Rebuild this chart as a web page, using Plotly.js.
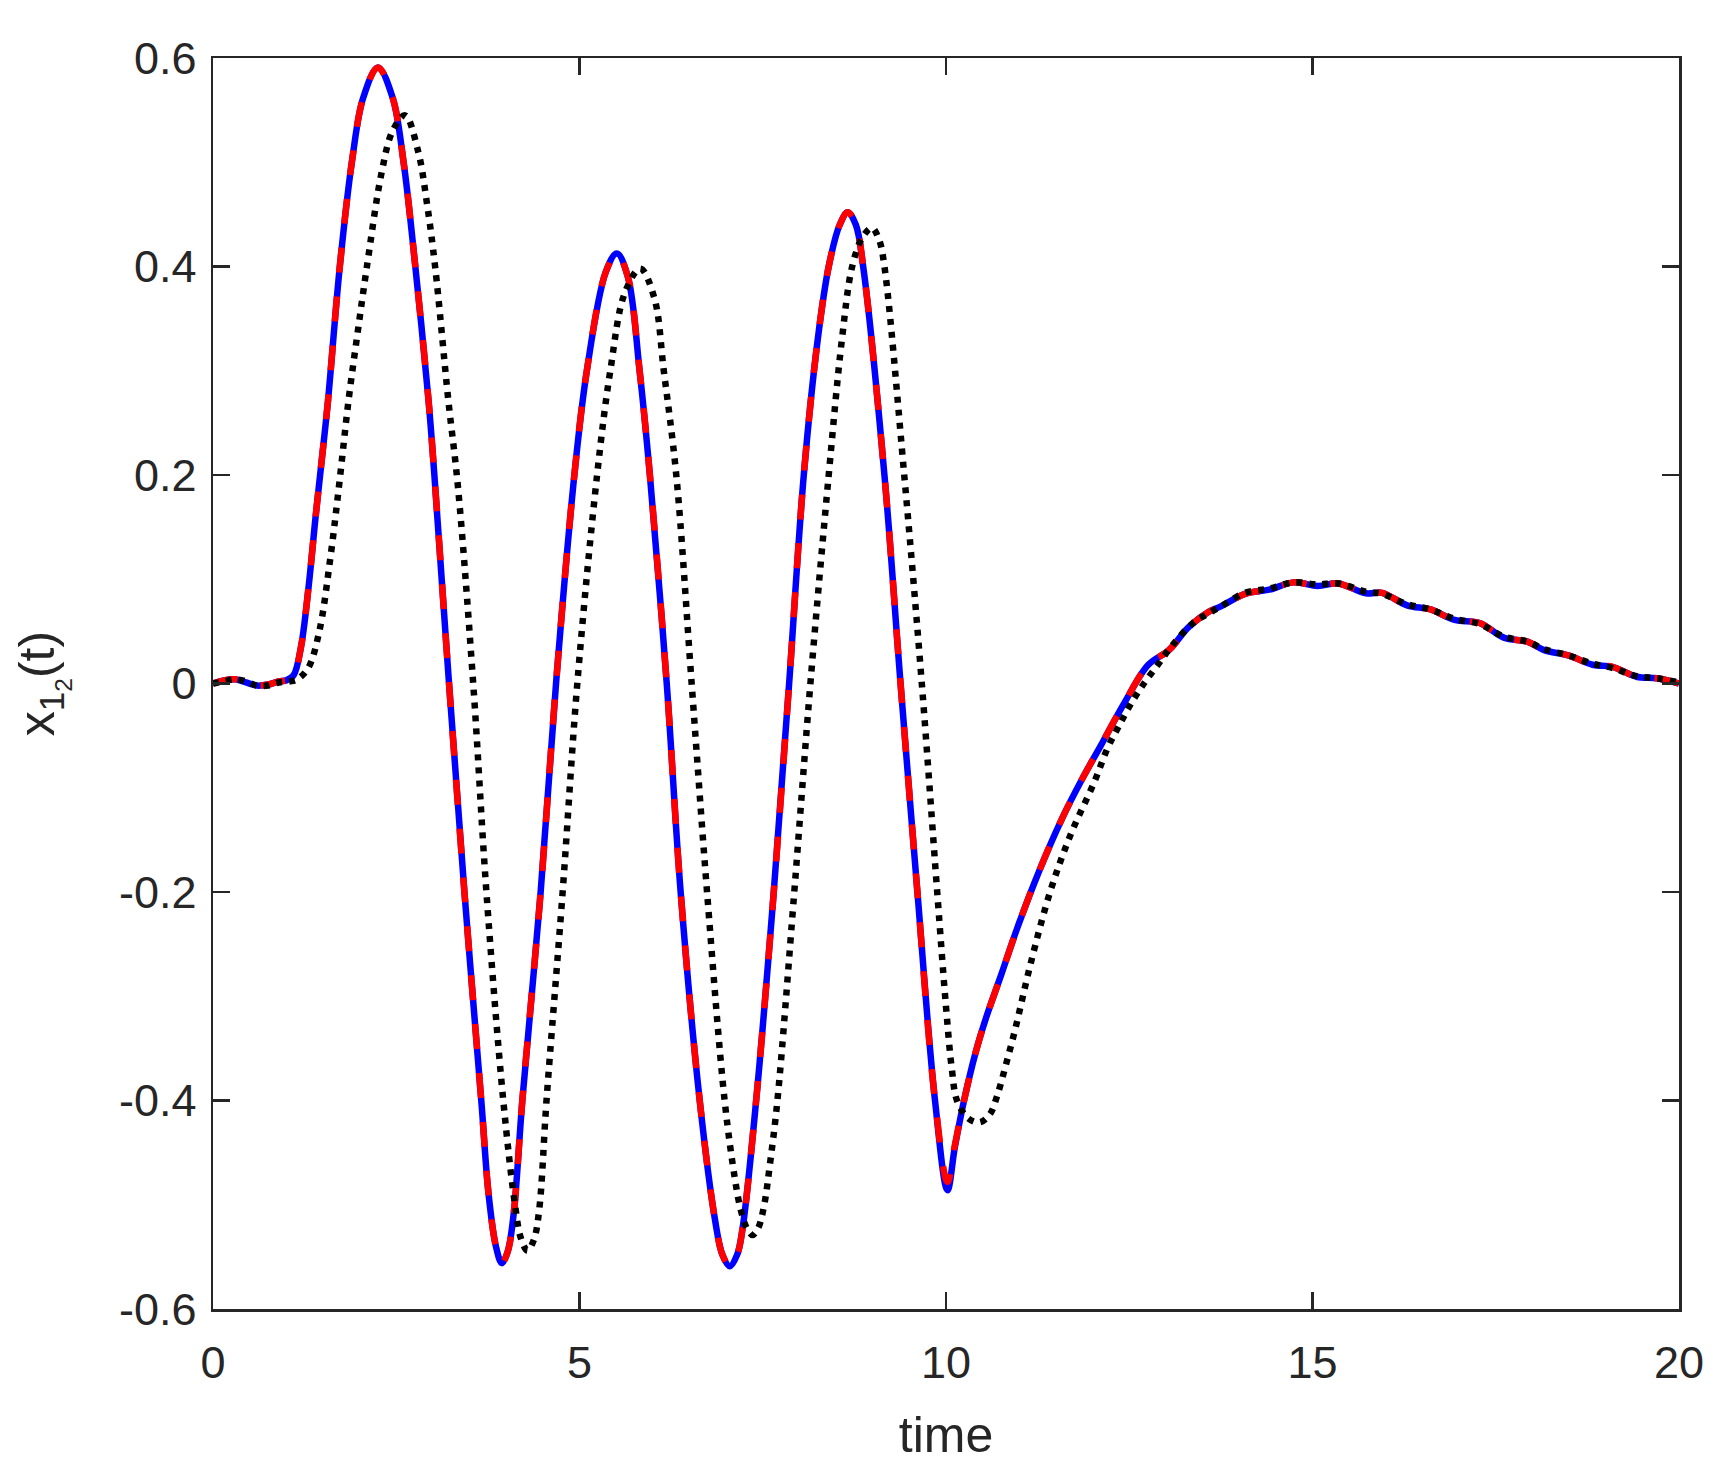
<!DOCTYPE html>
<html>
<head>
<meta charset="utf-8">
<script src="https://cdn.plot.ly/plotly-3.0.1.min.js"></script>
<style>html,body{margin:0;padding:0;background:#fff;}#chart{width:1733px;height:1481px;}</style>
</head>
<body>
<div id="chart"></div>
<script>
// time samples and values
const tBlue = [0, 0.15, 0.3, 0.45, 0.6, 0.75, 0.9, 1.0, 1.1, 1.2, 1.3, 1.4, 1.5, 1.57, 1.73, 1.9, 2.05, 2.25, 2.45, 2.6, 2.76, 2.94, 3.02, 3.22, 3.43, 3.66, 3.76, 3.86, 3.94, 4.02, 4.1, 4.22, 4.47, 4.68, 4.93, 5.1, 5.36, 5.51, 5.66, 5.82, 5.96, 6.19, 6.38, 6.64, 6.85, 6.95, 7.05, 7.15, 7.22, 7.41, 7.65, 7.86, 8.06, 8.25, 8.4, 8.55, 8.66, 8.77, 8.87, 9.16, 9.38, 9.61, 9.85, 10.02, 10.12, 10.24, 10.4, 10.55, 10.75, 10.97, 11.27, 11.58, 11.87, 12.10, 12.43, 12.76, 13.04, 13.31, 13.59, 13.75, 14.08, 14.41, 14.74, 15.07, 15.35, 15.73, 15.95, 16.29, 16.61, 16.94, 17.28, 17.61, 17.94, 18.16, 18.49, 18.82, 19.09, 19.42, 19.70, 20];
const xBlue = [0, 0.003, 0.004, 0.001, -0.002, -0.001, 0.002, 0.003, 0.008, 0.035, 0.09, 0.16, 0.225, 0.272, 0.4, 0.503, 0.562, 0.591, 0.562, 0.5, 0.4, 0.272, 0.2, 0.0, -0.2, -0.4, -0.49, -0.54, -0.556, -0.545, -0.51, -0.4, -0.2, 0.0, 0.2, 0.3, 0.395, 0.4125, 0.39, 0.3, 0.2, 0.0, -0.2, -0.4, -0.515, -0.548, -0.559, -0.548, -0.525, -0.4, -0.2, 0.0, 0.2, 0.33, 0.4, 0.44, 0.452, 0.44, 0.4, 0.2, 0.0, -0.2, -0.4, -0.486, -0.445, -0.402, -0.355, -0.32, -0.28, -0.235, -0.18, -0.13, -0.09, -0.061, -0.019, 0.018, 0.032, 0.054, 0.069, 0.074, 0.086, 0.090, 0.097, 0.0935, 0.096, 0.0865, 0.087, 0.075, 0.071, 0.061, 0.058, 0.044, 0.040, 0.032, 0.027, 0.018, 0.016, 0.0065, 0.005, 0];
const tRed = tBlue;
const xRed = [0, 0.003, 0.004, 0.001, -0.002, -0.001, 0.002, 0.003, 0.008, 0.035, 0.09, 0.16, 0.225, 0.272, 0.4, 0.503, 0.562, 0.591, 0.562, 0.5, 0.4, 0.272, 0.2, 0.0, -0.2, -0.4, -0.49, -0.54, -0.556, -0.545, -0.51, -0.4, -0.2, 0.0, 0.2, 0.3, 0.395, 0.4125, 0.39, 0.3, 0.2, 0.0, -0.2, -0.4, -0.515, -0.548, -0.559, -0.548, -0.525, -0.4, -0.2, 0.0, 0.2, 0.33, 0.4, 0.44, 0.452, 0.44, 0.4, 0.2, 0.0, -0.2, -0.4, -0.478, -0.443, -0.402, -0.355, -0.32, -0.28, -0.235, -0.18, -0.13, -0.09, -0.061, -0.019, 0.018, 0.032, 0.054, 0.069, 0.074, 0.086, 0.090, 0.097, 0.0935, 0.096, 0.0865, 0.087, 0.075, 0.071, 0.061, 0.058, 0.044, 0.040, 0.032, 0.027, 0.018, 0.016, 0.0065, 0.005, 0];
const tBlack = [0, 0.15, 0.3, 0.45, 0.6, 0.75, 0.9, 1.05, 1.15, 1.3, 1.45, 1.6, 1.72, 1.85, 1.97, 2.1, 2.3, 2.45, 2.62, 2.8, 2.92, 3.03, 3.21, 3.34, 3.55, 3.73, 3.96, 4.12, 4.2, 4.29, 4.38, 4.45, 4.55, 4.77, 4.97, 5.24, 5.42, 5.62, 5.83, 6.02, 6.15, 6.32, 6.53, 6.74, 6.98, 7.12, 7.2, 7.28, 7.36, 7.44, 7.52, 7.6, 7.7, 7.93, 8.15, 8.4, 8.58, 8.72, 8.86, 8.99, 9.09, 9.16, 9.43, 9.67, 9.88, 10.0, 10.08, 10.15, 10.3, 10.46, 10.6, 10.7, 10.82, 10.95, 11.15, 11.42, 11.7, 12.02, 12.21, 12.35, 12.51, 12.70, 12.89, 13.08, 13.37, 13.6, 13.8, 14.08, 14.41, 14.74, 15.07, 15.35, 15.73, 15.95, 16.29, 16.61, 16.94, 17.28, 17.61, 17.94, 18.16, 18.49, 18.82, 19.09, 19.42, 19.70, 20];
const xBlack = [0, 0.002, 0.004, 0.002, -0.002, -0.002, 0.001, 0.002, 0.004, 0.015, 0.05, 0.12, 0.19, 0.272, 0.335, 0.4, 0.49, 0.53, 0.545, 0.51, 0.46, 0.4, 0.272, 0.19, 0.0, -0.2, -0.4, -0.5, -0.532, -0.544, -0.533, -0.505, -0.4, -0.2, 0.0, 0.2, 0.3, 0.375, 0.398, 0.37, 0.3, 0.2, 0.0, -0.2, -0.4, -0.475, -0.505, -0.522, -0.529, -0.522, -0.5, -0.46, -0.4, -0.2, 0.0, 0.2, 0.33, 0.4, 0.428, 0.437, 0.425, 0.4, 0.2, 0.0, -0.2, -0.31, -0.37, -0.4, -0.417, -0.421, -0.413, -0.395, -0.365, -0.33, -0.27, -0.2, -0.145, -0.095, -0.061, -0.042, -0.021, 0.0, 0.018, 0.036, 0.058, 0.068, 0.076, 0.087, 0.091, 0.097, 0.095, 0.096, 0.088, 0.086, 0.076, 0.071, 0.062, 0.057, 0.045, 0.040, 0.033, 0.027, 0.019, 0.015, 0.007, 0.005, 0.001];
const xTicks = [0, 5, 10, 15, 20];
const xTickText = ['0', '5', '10', '15', '20'];
const yTicks = [-0.6, -0.4, -0.2, 0, 0.2, 0.4, 0.6];
const yTickText = ['-0.6', '-0.4', '-0.2', '0', '0.2', '0.4', '0.6'];
const xLabel = 'time';
const yLabel = 'x<sub>1<sub>2</sub></sub>(t)';

const FONT = 'Liberation Sans, Arimo, Helvetica, Arial, sans-serif';
const AX = '#262626';

const traces = [
  {x: tBlue, y: xBlue, mode: 'lines', line: {color: '#0000ff', width: 6.5, shape: 'spline'}, showlegend: false, hoverinfo: 'skip'},
  {x: tRed, y: xRed, mode: 'lines', line: {color: '#ff0000', width: 6.5, dash: '25px,24px', shape: 'spline'}, showlegend: false, hoverinfo: 'skip'},
  {x: tBlack, y: xBlack, mode: 'lines', line: {color: '#000000', width: 6.5, dash: '6px,7px', shape: 'spline'}, showlegend: false, hoverinfo: 'skip'}
];

const axisCommon = {
  showgrid: false, zeroline: false, showline: true, linecolor: AX, linewidth: 2.5,
  mirror: 'ticks', ticks: 'inside', ticklen: 17, tickwidth: 2.5, tickcolor: AX,
  tickfont: {family: FONT, size: 45, color: AX}
};

const layout = {
  width: 1733, height: 1481,
  margin: {l: 213, r: 54, t: 58, b: 172, pad: 0},
  paper_bgcolor: '#ffffff', plot_bgcolor: '#ffffff',
  font: {family: FONT, color: AX},
  xaxis: Object.assign({}, axisCommon, {
    range: [0, 20], tickmode: 'array', tickvals: xTicks, ticktext: xTickText,
    ticklabelstandoff: 12,
    title: {text: xLabel, font: {family: FONT, size: 50, color: AX}, standoff: 31}
  }),
  yaxis: Object.assign({}, axisCommon, {
    range: [-0.6, 0.6], tickmode: 'array', tickvals: yTicks, ticktext: yTickText,
    ticklabelstandoff: 5,
    title: {text: yLabel, font: {family: FONT, size: 50, color: AX}, standoff: 49}
  })
};

Plotly.newPlot('chart', traces, layout, {displayModeBar: false, staticPlot: true});
</script>
</body>
</html>
